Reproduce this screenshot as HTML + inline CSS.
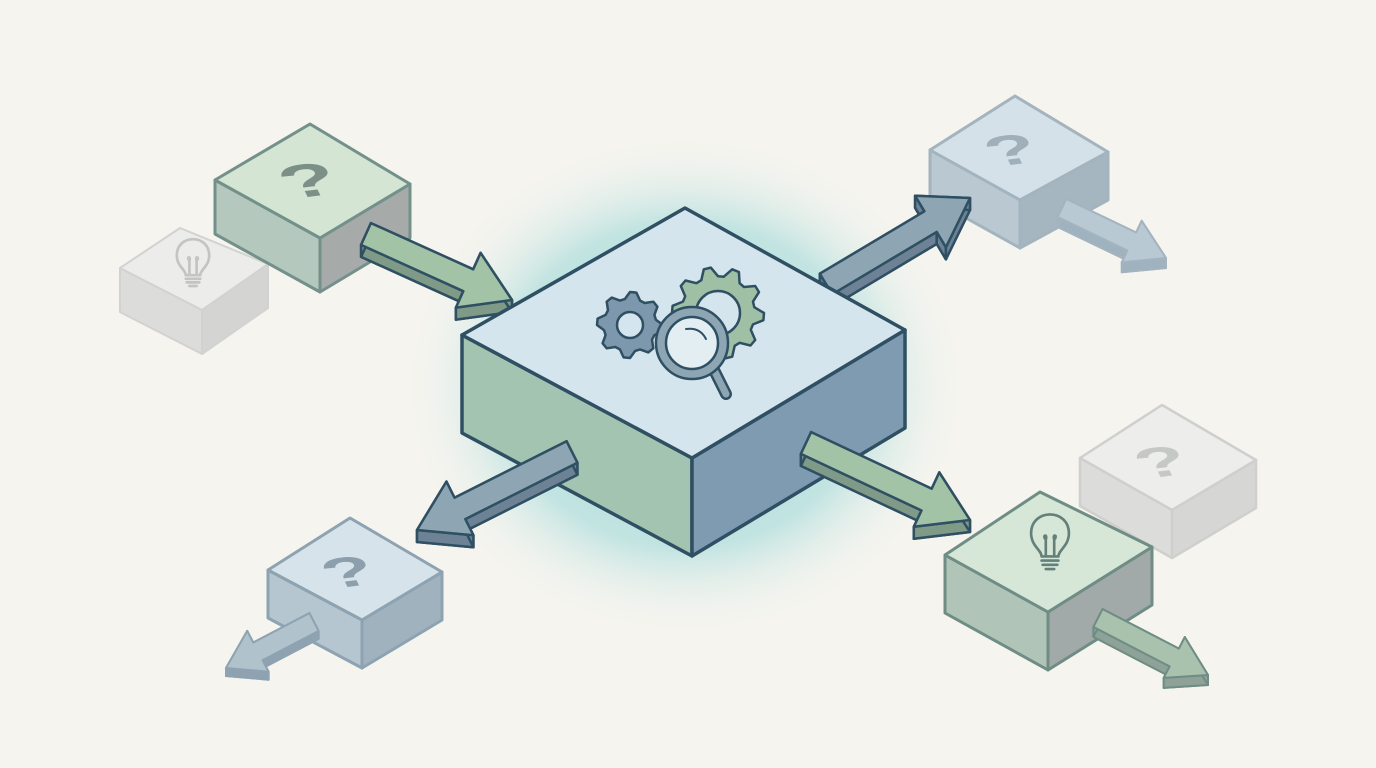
<!DOCTYPE html>
<html><head><meta charset="utf-8"><style>
html,body{margin:0;padding:0;background:#f5f4ef;width:1376px;height:768px;overflow:hidden}
svg{display:block}
</style></head><body>
<svg id="s" width="1376" height="768" viewBox="0 0 1376 768" xmlns="http://www.w3.org/2000/svg">
<defs>
<radialGradient id="glow" cx="50%" cy="50%" r="50%">
<stop offset="0%" stop-color="#9ed8d8" stop-opacity="1"/>
<stop offset="65%" stop-color="#b5e0de" stop-opacity="0.8"/>
<stop offset="100%" stop-color="#f5f4ef" stop-opacity="0"/>
</radialGradient>
</defs>
<rect width="1376" height="768" fill="#f5f4ef"/>
<ellipse cx="685" cy="385" rx="280" ry="250" fill="url(#glow)"/>
<g id="g"></g>
</svg>
<script>
var g=document.getElementById('g');
function el(tag,attrs){var e=document.createElementNS('http://www.w3.org/2000/svg',tag);for(var k in attrs)e.setAttribute(k,attrs[k]);g.appendChild(e);return e;}
function pts(a){return a.map(function(p){return p[0].toFixed(1)+','+p[1].toFixed(1)}).join(' ');}
function block(L,T,R,B,h,c){
 var sw=c.sw||3;
 el('polygon',{points:pts([L,B,[B[0],B[1]+h],[L[0],L[1]+h]]),fill:c.left,stroke:c.st,'stroke-width':sw,'stroke-linejoin':'round'});
 el('polygon',{points:pts([B,R,[R[0],R[1]+h],[B[0],B[1]+h]]),fill:c.right,stroke:c.st,'stroke-width':sw,'stroke-linejoin':'round'});
 el('polygon',{points:pts([L,T,R,B]),fill:c.top,stroke:c.st,'stroke-width':sw,'stroke-linejoin':'round'});
}
function arrow(x1,y1,x2,y2,sw,hw,hl,d,top,side,st,w){
 var dx=x2-x1,dy=y2-y1,l=Math.hypot(dx,dy),ux=dx/l,uy=dy/l,nx=-uy,ny=ux;
 var bx=x2-ux*hl,by=y2-uy*hl;
 var p=[[x1+nx*sw/2,y1+ny*sw/2],[bx+nx*sw/2,by+ny*sw/2],[bx+nx*hw/2,by+ny*hw/2],[x2,y2],[bx-nx*hw/2,by-ny*hw/2],[bx-nx*sw/2,by-ny*sw/2],[x1-nx*sw/2,y1-ny*sw/2]];
 var q=p.map(function(a){return [a[0],a[1]+d]});
 el('polygon',{points:pts(q),fill:side,stroke:st,'stroke-width':w,'stroke-linejoin':'round'});
 for(var i=0;i<p.length;i++){var j=(i+1)%p.length;
  el('polygon',{points:pts([p[i],p[j],q[j],q[i]]),fill:side,stroke:st,'stroke-width':w,'stroke-linejoin':'round'});}
 el('polygon',{points:pts(p),fill:top,stroke:st,'stroke-width':w,'stroke-linejoin':'round'});
}
function qmark(x,y,s,col){var t=el('text',{x:x,y:y,'font-family':'Liberation Sans, sans-serif','font-weight':'bold','font-size':s,fill:col,'text-anchor':'middle'});t.textContent='?';
 t.setAttribute('transform','translate('+x+','+y+') scale(1.5,0.75) rotate(-14) translate('+(-x)+','+(-y)+')');}
function bulb(x,y,s,col,w){
 var gg=el('g',{transform:'translate('+x+','+y+') scale('+s+')',fill:'none',stroke:col,'stroke-width':w,'stroke-linecap':'round','stroke-linejoin':'round'});
 var p=document.createElementNS('http://www.w3.org/2000/svg','path');
 p.setAttribute('d','M-8,8 C-8,2 -18,-2 -18,-14 C-18,-26 -9,-32 0,-32 C9,-32 18,-26 18,-14 C18,-2 8,2 8,8 Z M-8,12 L8,12 M-7,16 L7,16 M-4,20 L4,20 M-4,8 L-4,-8 M4,8 L4,-8 M-4,-8 C-8,-12 -2,-14 -4,-8 M4,-8 C8,-12 2,-14 4,-8');
 gg.appendChild(p);}

var ST='#2f4f63';
block([120,268],[180,228],[268,264],[202,310],44,{top:'#ececea',left:'#dcdcda',right:'#d4d4d2',st:'#d2d2d0',sw:2});
bulb(193,268,0.9,'#c4c4c2',3);
block([215,180],[310,124],[410,184],[320,238],54,{top:'#d4e5d3',left:'#b4c8be',right:'#a6abaa',st:'#73918a',sw:3});
qmark(316,196,62,'#7d9088');
block([930,150],[1015,96],[1108,152],[1020,200],48,{top:'#d5e1e8',left:'#b9c8d1',right:'#a6b6c1',st:'#a3b4bf',sw:3});
qmark(1018,164,56,'#9fb0bb');
arrow(1062,208,1166,258,20,46,38,10,'#b9c9d3','#9fb2bf','#a3b4bf',2);
block([268,570],[350,518],[442,572],[362,620],48,{top:'#d6e3ea',left:'#b5c6d0',right:'#a1b2bf',st:'#8ea3b1',sw:3});
qmark(355,586,56,'#8d9fad');
arrow(314,622,226,668,20,46,36,8,'#b0c2cc','#8ea2b1','#8ea3b1',2);
block([1080,458],[1162,405],[1256,460],[1172,510],48,{top:'#ededeb',left:'#dcdcda',right:'#d6d6d4',st:'#cfcfcd',sw:2.5});
qmark(1168,476,56,'#c6c8c6');
block([945,555],[1040,492],[1152,547],[1048,612],58,{top:'#d6e6d7',left:'#b0c4b8',right:'#a2aaa9',st:'#6f8d85',sw:3});
bulb(1050,548,1.05,'#64807a',2.5);
arrow(1098,618,1208,675,20,46,38,10,'#a9c2ad','#8ea298','#6f8d85',2);

arrow(366,234,512,300,24,60,48,12,'#a3c3a6','#7f9a86',ST,2.5);
arrow(826,284,970,198,24,60,46,12,'#8ea6b4','#6e8296',ST,2.5);

block([462,335],[685,208],[905,330],[692,458],98,{top:'#d5e5ee',left:'#a3c4b0',right:'#7f9bb2',st:ST,sw:3.5});

(function(){
 function gear(cx,cy,r,teeth,fill,hole){
  var d='';var n=teeth*2;for(var i=0;i<n*2;i++){var a=i*Math.PI/n;var rr=(Math.floor(i/2)%2==0)?r:r*0.8;var x=cx+rr*Math.cos(a),y=cy+rr*Math.sin(a);d+=(i?'L':'M')+x.toFixed(1)+','+y.toFixed(1);}d+='Z';
  el('path',{d:d,fill:fill,stroke:ST,'stroke-width':2.5,'stroke-linejoin':'round'});
  el('circle',{cx:cx,cy:cy,r:hole,fill:'#d5e5ee',stroke:ST,'stroke-width':2.5});
 }
 gear(718,313,46,10,'#9fc0a4',22);
 gear(630,325,33,8,'#7d98ad',13);
 el('line',{x1:708,y1:358,x2:726,y2:394,stroke:ST,'stroke-width':12,'stroke-linecap':'round'});
 el('line',{x1:708,y1:358,x2:726,y2:394,stroke:'#8ea6b4','stroke-width':7,'stroke-linecap':'round'});
 el('circle',{cx:692,cy:343,r:36,fill:'#8ea6b4',stroke:ST,'stroke-width':2.5});
 el('circle',{cx:692,cy:343,r:26,fill:'#e3eef3',stroke:ST,'stroke-width':2.5});
 el('path',{d:'M686,329 Q700,327 706,339',fill:'none',stroke:ST,'stroke-width':2,'stroke-linecap':'round'});
})();

arrow(572,452,417,530,24,60,48,12,'#8ea6b4','#6e8296',ST,2.5);
arrow(806,443,970,520,24,60,48,12,'#a3c3a6','#7f9a86',ST,2.5);
</script>
</body></html>
